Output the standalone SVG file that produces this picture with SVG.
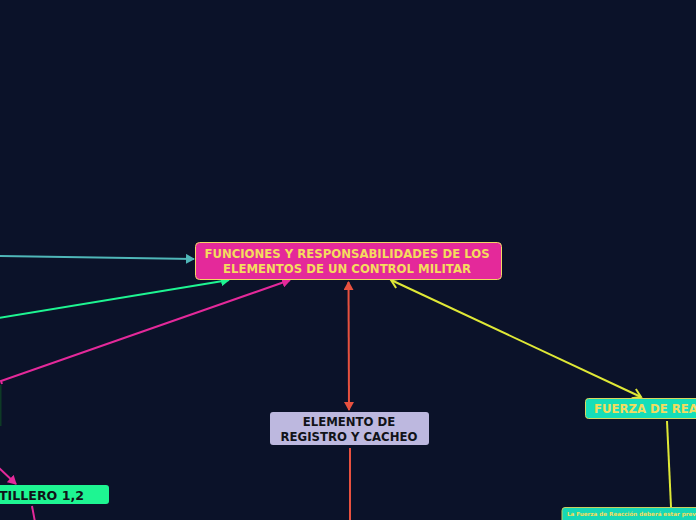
<svg xmlns="http://www.w3.org/2000/svg" width="696" height="520" viewBox="0 0 696 520">
<defs>
<style>
.t{font-family:"DejaVu Sans",Verdana,sans-serif;font-weight:bold;text-anchor:middle}
.c{fill:none;stroke-width:2}
</style>
<marker id="aTeal" markerWidth="10" markerHeight="10" refX="8" refY="5" orient="auto" markerUnits="userSpaceOnUse"><path d="M0,0 L9,5 L0,10 z" fill="#4fb7b9"/></marker>
<marker id="aGreen" markerWidth="10" markerHeight="10" refX="8" refY="5" orient="auto" markerUnits="userSpaceOnUse"><path d="M0,0 L9,5 L0,10 z" fill="#1ef592"/></marker>
<marker id="aMag" markerWidth="10" markerHeight="10" refX="8" refY="5" orient="auto" markerUnits="userSpaceOnUse"><path d="M0,0 L9,5 L0,10 z" fill="#e4299a"/></marker>
<marker id="aRed" markerWidth="10" markerHeight="10" refX="8" refY="5" orient="auto-start-reverse" markerUnits="userSpaceOnUse"><path d="M0,0 L9,5 L0,10 z" fill="#e8513f"/></marker>
<marker id="aYel" markerWidth="12" markerHeight="12" refX="9" refY="6" orient="auto-start-reverse" markerUnits="userSpaceOnUse"><path d="M1,1 L9,6 L1,11" fill="none" stroke="#dfe836" stroke-width="2"/></marker>
</defs>
<rect width="696" height="520" fill="#0b1229"/>
<g id="connectors">
<line class="c" x1="-2" y1="256" x2="194" y2="259" stroke="#4fb7b9" marker-end="url(#aTeal)"/>
<line class="c" x1="-2" y1="318" x2="229" y2="280" stroke="#1ef592" marker-end="url(#aGreen)"/>
<polyline class="c" points="2,384 1,381 290,280" stroke="#e4299a" marker-end="url(#aMag)"/>
<line class="c" x1="-2" y1="467" x2="16" y2="484" stroke="#e4299a" marker-end="url(#aMag)"/>
<line class="c" x1="32" y1="506" x2="35" y2="522" stroke="#e4299a"/>
<line class="c" x1="348.5" y1="282" x2="349" y2="410" stroke="#e8513f" marker-start="url(#aRed)" marker-end="url(#aRed)"/>
<line class="c" x1="350" y1="448" x2="350" y2="522" stroke="#e8513f"/>
<line class="c" x1="391" y1="280" x2="641" y2="397" stroke="#dfe836" marker-start="url(#aYel)" marker-end="url(#aYel)"/>
<line class="c" x1="667" y1="421" x2="671" y2="507" stroke="#dfe836"/>
<line x1="0.5" y1="385" x2="0.5" y2="426" stroke="#0e3a26" stroke-width="2"/>
</g>
<g id="central">
<rect x="195.5" y="242.5" width="306" height="37" rx="4" fill="#e4299a" stroke="#f2d864" stroke-width="1"/>
<text class="t" x="347" y="258" font-size="11.7" fill="#f4dc5e">FUNCIONES Y RESPONSABILIDADES DE LOS</text>
<text class="t" x="347" y="273" font-size="11.7" fill="#f4dc5e">ELEMENTOS DE UN CONTROL MILITAR</text>
</g>
<g id="registro">
<rect x="270" y="412" width="159" height="33" rx="3" fill="#bdb8df"/>
<text class="t" x="349" y="426" font-size="11.7" fill="#111318">ELEMENTO DE</text>
<text class="t" x="349" y="441" font-size="11.7" fill="#111318">REGISTRO Y CACHEO</text>
</g>
<g id="fuerza">
<rect x="585.5" y="398.5" width="140" height="20" rx="3" fill="#16deb9" stroke="#d8d860" stroke-width="1"/>
<text class="t" x="594" y="413" font-size="11.7" fill="#f4dc5e" style="text-anchor:start">FUERZA DE REACCIÓN</text>
</g>
<g id="fuerza-texto">
<rect x="562" y="507.5" width="160" height="30" rx="3" fill="#16d8b6" stroke="#c8d060" stroke-width="1"/>
<text class="t" x="567" y="515.5" font-size="5.6" fill="#f4dc5e" style="text-anchor:start">La Fuerza de Reacción deberá estar previ</text>
</g>
<g id="artillero">
<rect x="-20" y="485" width="129" height="19" rx="3" fill="#1ef592"/>
<text class="t" x="84" y="499.5" font-size="12.6" fill="#111318" style="text-anchor:end">ARTILLERO 1,2</text>
</g>
</svg>
